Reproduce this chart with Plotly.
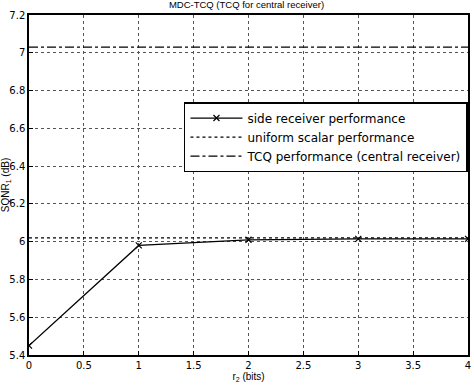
import plotly.graph_objects as go

r2 = [0, 1, 2, 3, 4]
side_receiver = [5.45, 5.98, 6.01, 6.015, 6.015]
uniform_x = [0, 4]
uniform_scalar = [6.02, 6.02]
tcq_x = [0, 4]
tcq_central = [7.03, 7.03]

x_ticks = [0, 0.5, 1, 1.5, 2, 2.5, 3, 3.5, 4]
x_labels = ["0", "0.5", "1", "1.5", "2", "2.5", "3", "3.5", "4"]
y_ticks = [5.4, 5.6, 5.8, 6, 6.2, 6.4, 6.6, 6.8, 7, 7.2]
y_labels = ["5.4", "5.6", "5.8", "6", "6.2", "6.4", "6.6", "6.8", "7", "7.2"]

FONT = "Liberation Sans, Arial"
TICKFONT = "DejaVu Sans"

fig = go.Figure()
fig.add_trace(go.Scatter(x=r2, y=side_receiver, mode="lines+markers",
                         name="side receiver performance",
                         line=dict(color="black", width=1.3),
                         marker=dict(symbol="x-thin", size=6, color="black",
                                     line=dict(width=1.2, color="black"))))
fig.add_trace(go.Scatter(x=uniform_x, y=uniform_scalar, mode="lines",
                         name="uniform scalar performance",
                         line=dict(color="black", width=1.2, dash="dot")))
fig.add_trace(go.Scatter(x=tcq_x, y=tcq_central, mode="lines",
                         name="TCQ performance (central receiver)",
                         line=dict(color="black", width=1.2, dash="dashdot")))

axis_common = dict(showline=True, linecolor="black", linewidth=1.5, mirror=True,
                   ticks="inside", ticklen=4, tickcolor="black", automargin=False,
                   showgrid=True, gridcolor="#555555", griddash="dot", gridwidth=1,
                   zeroline=False,
                   tickfont=dict(family=TICKFONT, size=10, color="black"))

fig.update_layout(
    width=474, height=386,
    margin=dict(l=29, r=6, t=15, b=31, autoexpand=False),
    paper_bgcolor="white", plot_bgcolor="white",
    title=dict(text="MDC-TCQ (TCQ for central receiver)", x=0.52, xanchor="center",
               y=0.997, yanchor="top",
               font=dict(family=FONT, size=9.5, color="black")),
    xaxis=dict(range=[0, 4], tickvals=x_ticks, ticktext=x_labels,
               title=dict(text="r<sub>2</sub> (bits)", standoff=0,
                          font=dict(family=FONT, size=10, color="black")),
               **axis_common),
    yaxis=dict(range=[5.4, 7.2], tickvals=y_ticks, ticktext=y_labels,
               title=dict(text="SQNR<sub>1</sub> (dB)", standoff=0,
                          font=dict(family=FONT, size=10, color="black")),
               **axis_common),
    legend=dict(x=0.353, y=0.744, xanchor="left", yanchor="top",
                bgcolor="white", bordercolor="black", borderwidth=1.5,
                font=dict(family="DejaVu Sans", size=12, color="black"),
                tracegroupgap=0, itemwidth=52),
    showlegend=True,
)

fig.write_html("out.html",
               config={"displayModeBar": False},
               post_script="document.body.style.margin='0';document.body.style.overflow='hidden';")
